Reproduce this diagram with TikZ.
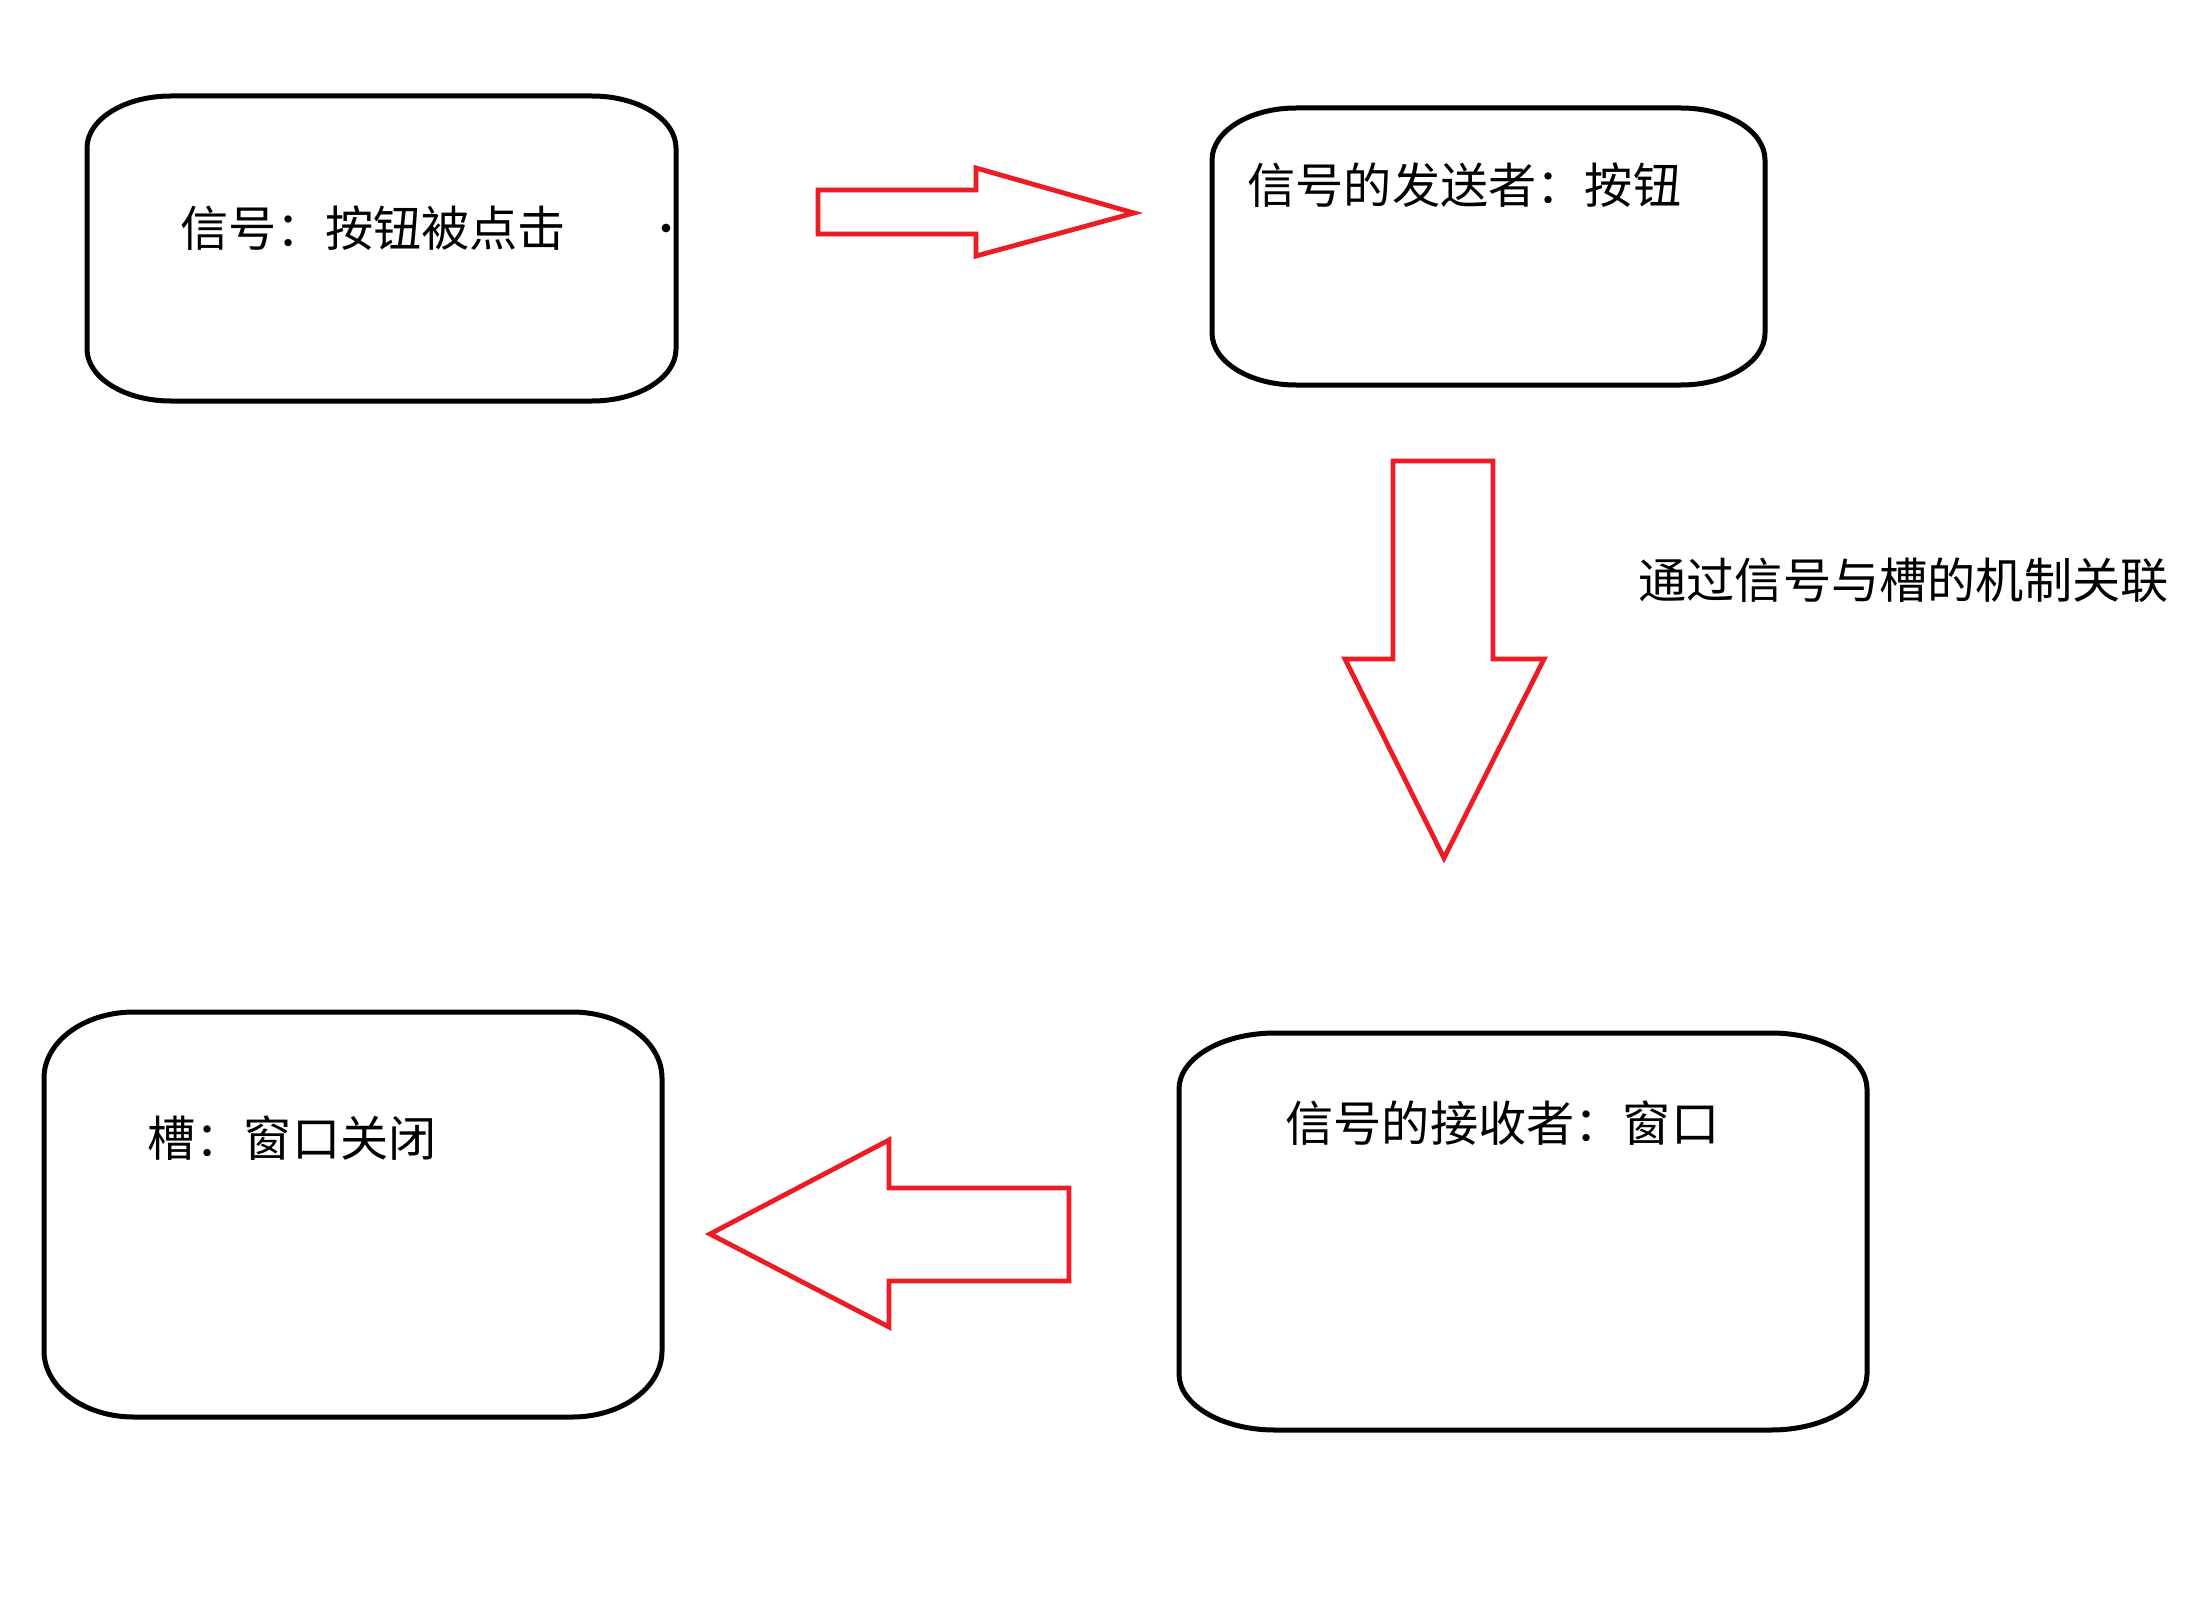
\documentclass[tikz,border=0pt]{standalone}
\usepackage{fontspec}
\newfontfamily\cjk{Noto Sans CJK SC}
\definecolor{pred}{HTML}{ED1C24}
\newcommand\ebox[3]{%
  \draw[boxline] ([xshift=#2]#1.north west) -- ([xshift=-#2]#1.north east)
    arc[start angle=90,end angle=0,x radius=#2,y radius=#3]
    -- ([yshift=#3]#1.south east)
    arc[start angle=0,end angle=-90,x radius=#2,y radius=#3]
    -- ([xshift=#2]#1.south west)
    arc[start angle=270,end angle=180,x radius=#2,y radius=#3]
    -- ([yshift=-#3]#1.north west)
    arc[start angle=180,end angle=90,x radius=#2,y radius=#3] -- cycle;}
\begin{document}
\begin{tikzpicture}[x=0.5pt,y=-0.5pt,
  boxline/.style={line width=2.5pt,black},
  area/.style={inner sep=0pt,outer sep=0pt},
  lbl/.style={font=\cjk\fontsize{24.1pt}{28pt}\selectfont,inner sep=0pt,anchor=west},
  redarrow/.style={draw=pred,line width=2.4pt,line join=miter}]
\useasboundingbox[fill=white] (0,0) rectangle (2209,1621);
% boxes (invisible areas)
\node[area,minimum width=294.5pt,minimum height=152.5pt] (b1) at (381.5,248.5) {};
\node[area,minimum width=276.5pt,minimum height=138.5pt] (b2) at (1488.5,246.5) {};
\node[area,minimum width=309pt,minimum height=202.5pt] (b3) at (353,1214.5) {};
\node[area,minimum width=344pt,minimum height=198.5pt] (b4) at (1523,1231.5) {};
\ebox{b1}{42pt}{26pt}
\ebox{b2}{42pt}{26pt}
\ebox{b3}{45pt}{33pt}
\ebox{b4}{48pt}{28pt}
% labels
\node[lbl] (t1) at (180,228) {信号：按钮被点击};
\node[lbl] (t2) at (1247,185) {信号的发送者：按钮};
\node[lbl] (t3) at (147,1138) {槽：窗口关闭};
\node[lbl] (t4) at (1285,1123) {信号的接收者：窗口};
\node[lbl] (t5) at (1638,580) {通过信号与槽的机制关联};
\fill[black] (666,228) circle (2.2pt);
% red block arrows
\draw[redarrow] (818,190) -- (976,190) -- (976,168) -- (1134,213) -- (976,256) -- (976,234) -- (818,234) -- cycle;
\draw[redarrow] (1393,461) -- (1493,461) -- (1493,659) -- (1544,659) -- (1444,858) -- (1345,659) -- (1393,659) -- cycle;
\draw[redarrow] (1069,1188) -- (889,1188) -- (889,1140) -- (710,1234) -- (889,1327) -- (889,1281) -- (1069,1281) -- cycle;
\end{tikzpicture}
\end{document}
